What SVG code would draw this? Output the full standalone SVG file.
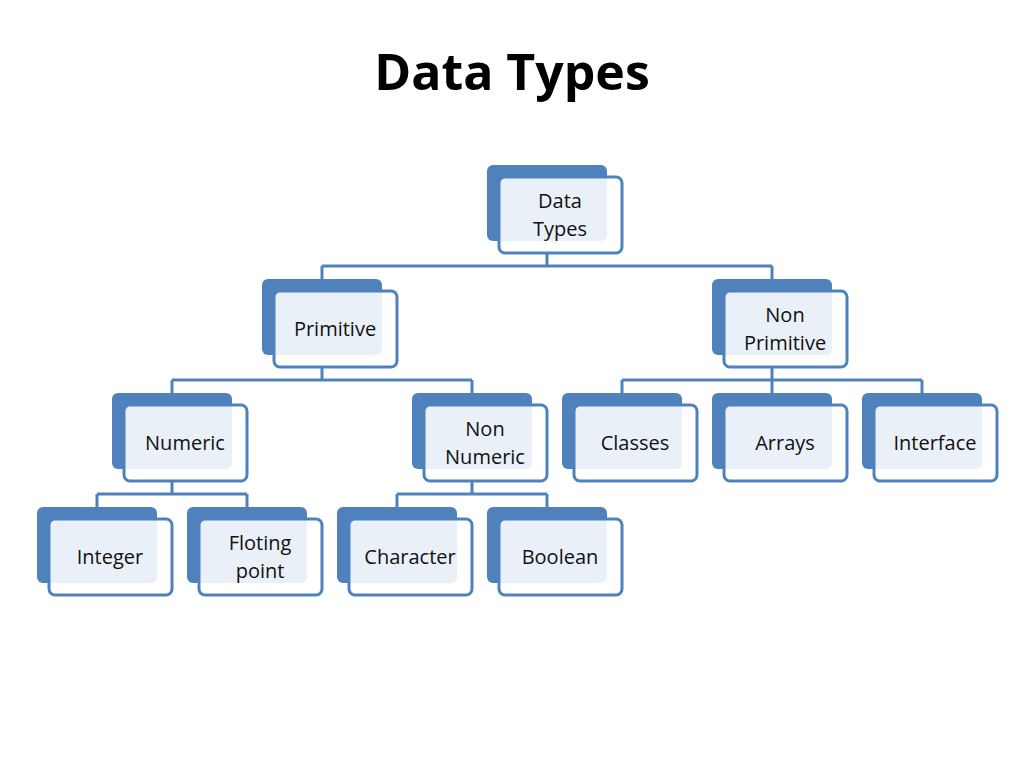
<svg xmlns="http://www.w3.org/2000/svg" width="1024" height="768" viewBox="0 0 1024 768">
<style>
.b{fill:#4F81BD;}
.f{fill:#fff;fill-opacity:0.88;stroke:#4F81BD;stroke-width:3;}
.t{font-family:"Open Sans","Liberation Sans",sans-serif;font-size:20px;fill:#111;text-anchor:middle;}
.c{fill:none;stroke:#4F81BD;stroke-width:3;}
</style>
<rect width="1024" height="768" fill="#fff"/>
<text x="512" y="90" font-family="'Open Sans','Liberation Sans',sans-serif" font-weight="bold" font-size="50" text-anchor="middle" fill="#000">Data Types</text>
<g id="connectors">
<path class="c" d="M547 253V266M322 266H772M322 266V279M772 266V279"/>
<path class="c" d="M322 367V380M172 380H472M172 380V393M472 380V393"/>
<path class="c" d="M772 367V380M622 380H922M622 380V393M772 380V393M922 380V393"/>
<path class="c" d="M172 481V494M97 494H247M97 494V507M247 494V507"/>
<path class="c" d="M472 481V494M397 494H547M397 494V507M547 494V507"/>
</g>
<g id="n-datatypes"><rect class="b" x="487" y="165" width="120" height="76" rx="6"/><rect class="f" x="499" y="177" width="123" height="76" rx="6"/><text class="t" x="560" y="208">Data</text><text class="t" x="560" y="236">Types</text></g>
<g id="n-primitive"><rect class="b" x="262" y="279" width="120" height="76" rx="6"/><rect class="f" x="274" y="291" width="123" height="76" rx="6"/><text class="t" x="335" y="336">Primitive</text></g>
<g id="n-nonprimitive"><rect class="b" x="712" y="279" width="120" height="76" rx="6"/><rect class="f" x="724" y="291" width="123" height="76" rx="6"/><text class="t" x="785" y="322">Non</text><text class="t" x="785" y="350">Primitive</text></g>
<g id="n-numeric"><rect class="b" x="112" y="393" width="120" height="76" rx="6"/><rect class="f" x="124" y="405" width="123" height="76" rx="6"/><text class="t" x="185" y="450">Numeric</text></g>
<g id="n-nonnumeric"><rect class="b" x="412" y="393" width="120" height="76" rx="6"/><rect class="f" x="424" y="405" width="123" height="76" rx="6"/><text class="t" x="485" y="436">Non</text><text class="t" x="485" y="464">Numeric</text></g>
<g id="n-classes"><rect class="b" x="562" y="393" width="120" height="76" rx="6"/><rect class="f" x="574" y="405" width="123" height="76" rx="6"/><text class="t" x="635" y="450">Classes</text></g>
<g id="n-arrays"><rect class="b" x="712" y="393" width="120" height="76" rx="6"/><rect class="f" x="724" y="405" width="123" height="76" rx="6"/><text class="t" x="785" y="450">Arrays</text></g>
<g id="n-interface"><rect class="b" x="862" y="393" width="120" height="76" rx="6"/><rect class="f" x="874" y="405" width="123" height="76" rx="6"/><text class="t" x="935" y="450">Interface</text></g>
<g id="n-integer"><rect class="b" x="37" y="507" width="120" height="76" rx="6"/><rect class="f" x="49" y="519" width="123" height="76" rx="6"/><text class="t" x="110" y="564">Integer</text></g>
<g id="n-floting"><rect class="b" x="187" y="507" width="120" height="76" rx="6"/><rect class="f" x="199" y="519" width="123" height="76" rx="6"/><text class="t" x="260" y="550">Floting</text><text class="t" x="260" y="578">point</text></g>
<g id="n-character"><rect class="b" x="337" y="507" width="120" height="76" rx="6"/><rect class="f" x="349" y="519" width="123" height="76" rx="6"/><text class="t" x="410" y="564">Character</text></g>
<g id="n-boolean"><rect class="b" x="487" y="507" width="120" height="76" rx="6"/><rect class="f" x="499" y="519" width="123" height="76" rx="6"/><text class="t" x="560" y="564">Boolean</text></g>
</svg>
